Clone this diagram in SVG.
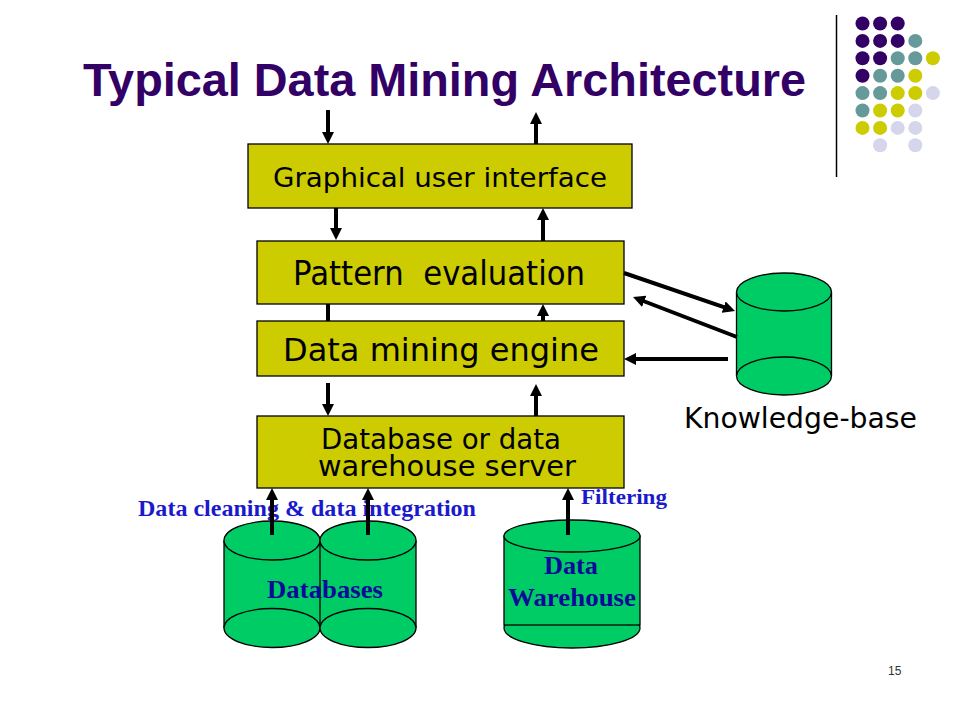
<svg xmlns="http://www.w3.org/2000/svg" width="960" height="720" viewBox="0 0 960 720">
<defs>
<style>
.box{fill:#CCCC00;stroke:#000;stroke-width:1.3}
.cyl{fill:#00CC66;stroke:#000;stroke-width:1.3}
.cylf{fill:#00CC66}
.side{stroke:#000;stroke-width:1.3;fill:none}
.bt{font-family:"DejaVu Sans","Liberation Sans",sans-serif;fill:#000}
.lbl{font-family:"Liberation Serif","Times New Roman",serif;font-weight:bold}
.conn{stroke:#000;stroke-width:4;fill:none}
.arr{marker-end:url(#ah)}
.p{fill:#330066}.t{fill:#669999}.y{fill:#CCCC00}.l{fill:#D5D5EB}
</style>
<marker id="ah" viewBox="0 0 12 12" refX="1" refY="6" markerWidth="12" markerHeight="12" markerUnits="userSpaceOnUse" orient="auto">
<path d="M0,0 L12,6 L0,12 z" fill="#000"/>
</marker>
</defs>
<rect width="960" height="720" fill="#fff"/>

<g id="decor">
<line x1="836.5" y1="15" x2="836.5" y2="177" stroke="#000" stroke-width="1.5"/>
<circle class="p" cx="862.5" cy="23.5" r="7"/><circle class="p" cx="880.1" cy="23.5" r="7"/><circle class="p" cx="897.7" cy="23.5" r="7"/>
<circle class="p" cx="862.5" cy="40.9" r="7"/><circle class="p" cx="880.1" cy="40.9" r="7"/><circle class="p" cx="897.7" cy="40.9" r="7"/><circle class="t" cx="915.3" cy="40.9" r="7"/>
<circle class="p" cx="862.5" cy="58.3" r="7"/><circle class="p" cx="880.1" cy="58.3" r="7"/><circle class="t" cx="897.7" cy="58.3" r="7"/><circle class="t" cx="915.3" cy="58.3" r="7"/><circle class="y" cx="932.9" cy="58.3" r="7"/>
<circle class="p" cx="862.5" cy="75.7" r="7"/><circle class="t" cx="880.1" cy="75.7" r="7"/><circle class="t" cx="897.7" cy="75.7" r="7"/><circle class="y" cx="915.3" cy="75.7" r="7"/>
<circle class="t" cx="862.5" cy="93.1" r="7"/><circle class="t" cx="880.1" cy="93.1" r="7"/><circle class="y" cx="897.7" cy="93.1" r="7"/><circle class="y" cx="915.3" cy="93.1" r="7"/><circle class="l" cx="932.9" cy="93.1" r="7"/>
<circle class="t" cx="862.5" cy="110.5" r="7"/><circle class="y" cx="880.1" cy="110.5" r="7"/><circle class="y" cx="897.7" cy="110.5" r="7"/><circle class="l" cx="915.3" cy="110.5" r="7"/>
<circle class="y" cx="862.5" cy="127.9" r="7"/><circle class="y" cx="880.1" cy="127.9" r="7"/><circle class="l" cx="897.7" cy="127.9" r="7"/><circle class="l" cx="915.3" cy="127.9" r="7"/>
<circle class="l" cx="880.1" cy="145.3" r="7"/><circle class="l" cx="915.3" cy="145.3" r="7"/>
</g>

<g id="title">
<text x="83" y="96" font-family="Liberation Sans, Arial, sans-serif" font-weight="bold" font-size="46" fill="#330066" textLength="723" lengthAdjust="spacingAndGlyphs">Typical Data Mining Architecture</text>
</g>

<g id="gui">
<rect class="box" x="248" y="144" width="384" height="64"/>
<text class="bt" x="273" y="187" font-size="27" textLength="334" lengthAdjust="spacingAndGlyphs">Graphical user interface</text>
</g>

<g id="pattern-evaluation">
<rect class="box" x="257" y="241" width="367" height="63"/>
<text class="bt" x="293" y="285" font-size="34" textLength="292" lengthAdjust="spacingAndGlyphs" xml:space="preserve">Pattern  evaluation</text>
</g>

<g id="data-mining-engine">
<rect class="box" x="257" y="321" width="367" height="55"/>
<text class="bt" x="283" y="361" font-size="32" textLength="316" lengthAdjust="spacingAndGlyphs">Data mining engine</text>
</g>

<g id="db-server">
<rect class="box" x="257" y="416" width="367" height="72"/>
<text class="bt" x="321" y="449" font-size="29" textLength="240" lengthAdjust="spacingAndGlyphs">Database or data</text>
<text class="bt" x="318" y="476" font-size="29" textLength="258" lengthAdjust="spacingAndGlyphs">warehouse server</text>
</g>

<g id="knowledge-base">
<rect class="cylf" x="736.5" y="292" width="95" height="84"/>
<line class="side" x1="736.5" y1="292" x2="736.5" y2="376"/>
<line class="side" x1="831.5" y1="292" x2="831.5" y2="376"/>
<ellipse class="cyl" cx="784" cy="376" rx="47.5" ry="19"/>
<ellipse class="cyl" cx="784" cy="292" rx="47.5" ry="19"/>
<text class="bt" x="684" y="428" font-size="28" textLength="233" lengthAdjust="spacingAndGlyphs">Knowledge-base</text>
</g>

<g id="databases">
<rect class="cylf" x="224" y="540.5" width="96" height="87.5"/>
<line class="side" x1="224" y1="540.5" x2="224" y2="628"/>
<ellipse class="cyl" cx="272" cy="628" rx="48" ry="19.5"/>
<ellipse class="cyl" cx="272" cy="540.5" rx="48" ry="19.5"/>
<rect class="cylf" x="320" y="540.5" width="96" height="87.5"/>
<line class="side" x1="320" y1="540.5" x2="320" y2="628"/>
<line class="side" x1="416" y1="540.5" x2="416" y2="628"/>
<ellipse class="cyl" cx="368" cy="628" rx="48" ry="19.5"/>
<ellipse class="cyl" cx="368" cy="540.5" rx="48" ry="19.5"/>
<text class="lbl" x="267" y="598" font-size="26" fill="#0a0a99" textLength="116" lengthAdjust="spacingAndGlyphs">Databases</text>
</g>

<g id="data-warehouse">
<ellipse class="cyl" cx="572" cy="628" rx="68" ry="20"/>
<rect class="cyl" x="504" y="536" width="136" height="89"/>
<ellipse class="cyl" cx="572" cy="536" rx="68" ry="16"/>
<text class="lbl" x="544" y="574" font-size="26" fill="#0a0a99" textLength="54" lengthAdjust="spacingAndGlyphs">Data</text>
<text class="lbl" x="508" y="606" font-size="26" fill="#0a0a99" textLength="128" lengthAdjust="spacingAndGlyphs">Warehouse</text>
</g>

<g id="labels">
<text class="lbl" x="138" y="516" font-size="23" fill="#1a1acc" textLength="338" lengthAdjust="spacingAndGlyphs">Data cleaning &amp; data integration</text>
<text class="lbl" x="581" y="504" font-size="22" fill="#1a1acc" textLength="86" lengthAdjust="spacingAndGlyphs">Filtering</text>
<text x="888" y="675" font-family="Liberation Sans, Arial, sans-serif" font-size="12" fill="#333">15</text>
</g>

<g id="connectors">
<line class="conn arr" x1="328" y1="110" x2="328" y2="133"/>
<line class="conn arr" x1="536" y1="144" x2="536" y2="123"/>
<line class="conn arr" x1="336" y1="208" x2="336" y2="229"/>
<line class="conn arr" x1="543" y1="241" x2="543" y2="219"/>
<line class="conn" x1="328" y1="304" x2="328" y2="321"/>
<line class="conn arr" x1="543" y1="321" x2="543" y2="315"/>
<line class="conn arr" x1="328" y1="383" x2="328" y2="405"/>
<line class="conn arr" x1="536" y1="416" x2="536" y2="395"/>
<line class="conn arr" x1="272" y1="535" x2="272" y2="499"/>
<line class="conn arr" x1="368" y1="535" x2="368" y2="499"/>
<line class="conn arr" x1="568" y1="535" x2="568" y2="499"/>
<line class="conn arr" x1="624" y1="273" x2="724.6" y2="307.4"/>
<line class="conn arr" x1="737" y1="337" x2="643.3" y2="301"/>
<line class="conn arr" x1="728" y1="359" x2="635" y2="359"/>
</g>
</svg>
